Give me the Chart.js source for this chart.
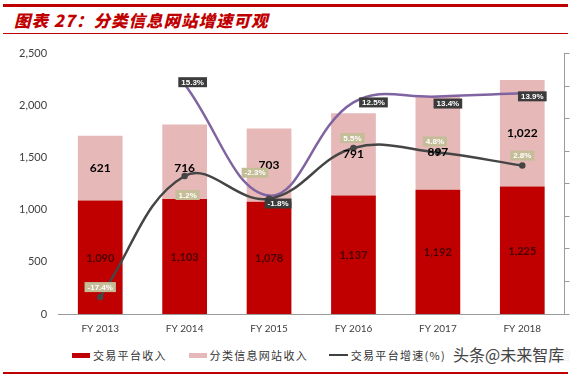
<!DOCTYPE html>
<html>
<head>
<meta charset="utf-8">
<script src="https://cdn.jsdelivr.net/npm/chart.js@4"></script>
<style>
  body { margin: 0; width: 571px; height: 377px; background: #fff; position: relative; overflow: hidden; font-family: "Noto Sans CJK SC", sans-serif; }
  .bar-top { position: absolute; left: 3px; width: 565px; top: 4px; height: 3px; background: #c00000; }
  .rule { position: absolute; left: 3px; width: 565px; height: 1px; background: #c00000; }
  .title { position: absolute; left: 14px; top: 8px; font-size: 16.5px; font-weight: 900; font-style: italic; color: #c00000; letter-spacing: 1px; }
  #wrap { position: absolute; left: 0; top: 36px; width: 571px; height: 304px; }
  .legend { position: absolute; top: 345px; left: 72px; white-space: nowrap; font-size: 11px; color: #333; letter-spacing: 1.3px; }
  .legend span { display: inline-block; vertical-align: middle; }
  .sw { width: 18px; height: 5px; margin-right: 3px; }
  .ln { width: 19px; height: 2px; margin-right: 3px; }
  .watermark { position: absolute; left: 452px; top: 342px; width: 116px; font-size: 16px; color: #444; background: rgba(255,255,255,0.92); padding: 0 1px; text-shadow: 0 0 2px #fff; white-space: nowrap; }
</style>
</head>
<body>
<div class="bar-top"></div>
<div class="title">图表 27：分类信息网站增速可观</div>
<div class="rule" style="top:33px"></div>
<div id="wrap"><canvas id="myChart"></canvas></div>
<div class="legend">
  <span class="sw" style="background:#c00000"></span><span style="margin-right:18px">交易平台收入</span>
  <span class="sw" style="background:#e6b9b8"></span><span style="margin-right:17px">分类信息网站收入</span>
  <span class="ln" style="background:#404040"></span><span style="margin-right:14px">交易平台增速(%)</span>
  <span class="ln" style="background:#8064a2"></span><span>分类信息网站增速(%)</span>
</div>
<div class="watermark">头条@未来智库</div>
<div class="rule" style="top:372px; height:1.5px"></div>
<script>
const years = ['FY 2013', 'FY 2014', 'FY 2015', 'FY 2016', 'FY 2017', 'FY 2018'];
const platformRevenue = [1090, 1103, 1078, 1137, 1192, 1225];
const classifiedRevenue = [621, 716, 703, 791, 897, 1022];
const platformGrowth = [-17.4, 1.2, -2.3, 5.5, 4.8, 2.8];
const classifiedGrowth = [null, 15.3, -1.8, 12.5, 13.4, 13.9];

// label nudges (px) so boxes sit where the original put them
const shiftClassifiedBar = [0, 6, 0, 0, 9, 0];
const shiftPlatformGrowth = [[0, -10], [3, 19], [-14, -26], [-1, -10], [-3, -11], [0, -10]];
const shiftClassifiedGrowth = [[0, 0], [8, -2], [9, 8], [20, 0], [10, 7], [10, 3]];

const fmt = v => v.toLocaleString('en-US');

function drawBox(ctx, text, x, y, bg){
    ctx.font = 'bold 8px "Liberation Sans", sans-serif';
    const w = ctx.measureText(text).width + 6;
    ctx.fillStyle = bg;
    ctx.fillRect(x - w / 2, y - 5, w, 10);
    ctx.fillStyle = '#fff';
    ctx.fillText(text, x, y + 0.5);
}

const labelPlugin = {
    id: 'labels',
    afterDatasetsDraw(chart){
        const ctx = chart.ctx;
        ctx.save();
        ctx.textAlign = 'center';
        ctx.textBaseline = 'middle';
        chart.data.datasets.forEach((ds, i) => {
            const meta = chart.getDatasetMeta(i);
            meta.data.forEach((el, j) => {
                const v = ds.data[j];
                if (v == null) return;
                if (i === 0) {
                    ctx.font = 'bold 11px Lato, sans-serif';
                    ctx.fillStyle = '#4a0000';
                    ctx.fillText(fmt(v), el.x, (el.y + el.base) / 2 + 1);
                } else if (i === 1) {
                    ctx.font = 'bold 12px Lato, sans-serif';
                    ctx.fillStyle = '#000';
                    ctx.fillText(fmt(v), el.x, (el.y + el.base) / 2 + shiftClassifiedBar[j]);
                } else if (i === 2) {
                    const s = shiftPlatformGrowth[j];
                    drawBox(ctx, v.toFixed(1) + '%', el.x + s[0], el.y + s[1], '#c4bd97');
                } else {
                    const s = shiftClassifiedGrowth[j];
                    drawBox(ctx, v.toFixed(1) + '%', el.x + s[0], el.y + s[1], '#3b3b3b');
                }
            });
        });
        ctx.restore();
    }
};

const chartCtx = document.getElementById('myChart').getContext('2d');

const revenueChart = new Chart(chartCtx, {
    type: 'bar',
    data: {
        labels: years,
        datasets: [
            { label: '交易平台收入', data: platformRevenue, backgroundColor: '#c00000', stack: 's', order: 3 },
            { label: '分类信息网站收入', data: classifiedRevenue, backgroundColor: '#e6b9b8', stack: 's', order: 3 },
            {
                type: 'line', label: '交易平台增速(%)', data: platformGrowth, yAxisID: 'y1',
                borderColor: '#454545', backgroundColor: '#454545', borderWidth: 2.5,
                tension: 0.4, pointRadius: 2, order: 1
            },
            {
                type: 'line', label: '分类信息网站增速(%)', data: classifiedGrowth, yAxisID: 'y1',
                borderColor: '#8064a2', backgroundColor: '#8064a2', borderWidth: 2.5,
                tension: 0.4, pointRadius: 0, order: 2
            }
        ]
    },
    options: {
        responsive: true,
        maintainAspectRatio: false,
        animation: false,
        layout: { padding: { left: 8, top: 3, bottom: 4 } },
        datasets: { bar: { barPercentage: 0.53, categoryPercentage: 1 } },
        scales: {
            x: {
                stacked: true,
                grid: { display: false },
                border: { display: true, color: '#9a9a9a' },
                ticks: { color: '#404040', font: { family: 'Lato', size: 10 }, padding: 1 }
            },
            y: {
                stacked: true, min: 0, max: 2500,
                grid: { display: false, drawTicks: false },
                border: { display: false },
                ticks: { stepSize: 500, color: '#404040', font: { family: 'Lato', size: 11 }, padding: 11, callback: v => fmt(v) }
            },
            y1: {
                position: 'right', min: -20, max: 20,
                grid: { drawOnChartArea: false, tickLength: 5, color: '#9a9a9a' },
                border: { display: true, color: '#9a9a9a' },
                ticks: { stepSize: 5, display: false }
            }
        },
        plugins: { legend: { display: false }, tooltip: { enabled: false } }
    },
    plugins: [labelPlugin]
});
</script>
</body>
</html>
